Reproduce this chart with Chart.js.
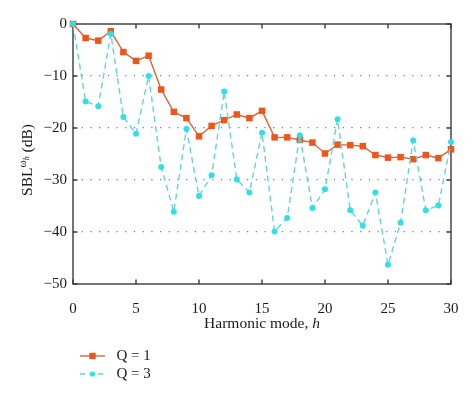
<!DOCTYPE html>
<html>
<head>
<meta charset="utf-8">
<script src="https://cdn.jsdelivr.net/npm/chart.js@4.4.1/dist/chart.umd.min.js"></script>
<style>
  html, body { margin: 0; padding: 0; background: #ffffff; }
  #wrap { width: 474px; height: 399px; }
</style>
</head>
<body>
<div id="wrap"><canvas id="c" width="474" height="399"></canvas></div>
<script>
// ---- data ----
const harmonics = [0,1,2,3,4,5,6,7,8,9,10,11,12,13,14,15,16,17,18,19,20,21,22,23,24,25,26,27,28,29,30];
const q1Values = [0,-2.7,-3.2,-1.4,-5.4,-7.1,-6.1,-12.6,-16.9,-18.1,-21.6,-19.6,-18.5,-17.4,-18.1,-16.7,
                  -21.8,-21.8,-22.3,-22.8,-24.9,-23.2,-23.3,-23.5,-25.2,-25.7,-25.6,-26.0,-25.2,-25.8,-24.1];
const q3Values = [0,-14.9,-15.8,-1.9,-17.9,-21.1,-10.0,-27.5,-36.1,-20.2,-33.1,-29.1,-13.0,-29.9,-32.4,-20.9,
                  -39.9,-37.3,-21.4,-35.4,-31.8,-18.3,-35.8,-38.8,-32.4,-46.3,-38.2,-22.4,-35.8,-34.9,-22.7];
const seriesLabels = ['Q = 1', 'Q = 3'];
const xTicks = [0,5,10,15,20,25,30];
const yTicks = [0,-10,-20,-30,-40,-50];
const xTitle = 'Harmonic mode, ';
const xTitleItalic = 'h';

const SERIF = '"Liberation Serif", "DejaVu Serif", serif';
const ORANGE_PT = '#ee561c';
const ORANGE_LN = '#d4673c';
const CYAN_PT = '#2fe0e6';
const CYAN_LN = '#62d5d8';

const toPts = (vals) => harmonics.map((h, i) => ({ x: h, y: vals[i] }));

const framePlugin = {
  id: 'frame',
  beforeDatasetsDraw(chart) {
    const { ctx, chartArea: a, scales } = chart;
    ctx.save();
    ctx.strokeStyle = '#3a3a3a';
    ctx.lineWidth = 1.4;
    ctx.strokeRect(a.left, a.top, a.right - a.left, a.bottom - a.top);
    const tl = 4.5;
    ctx.beginPath();
    xTicks.forEach(v => {
      const px = scales.x.getPixelForValue(v);
      ctx.moveTo(px, a.bottom); ctx.lineTo(px, a.bottom - tl);
      ctx.moveTo(px, a.top); ctx.lineTo(px, a.top + tl);
    });
    yTicks.forEach(v => {
      const py = scales.y.getPixelForValue(v);
      ctx.moveTo(a.left, py); ctx.lineTo(a.left + tl, py);
      ctx.moveTo(a.right, py); ctx.lineTo(a.right - tl, py);
    });
    ctx.stroke();
    ctx.restore();
  },
  afterDraw(chart) {
    const { ctx, chartArea: a } = chart;
    ctx.save();
    ctx.fillStyle = '#1a1a1a';
    // x title
    const fs = 15.5;
    ctx.font = fs + 'px ' + SERIF;
    const w1 = ctx.measureText(xTitle).width;
    ctx.font = 'italic ' + fs + 'px ' + SERIF;
    const w2 = ctx.measureText(xTitleItalic).width;
    const cx = (a.left + a.right) / 2;
    let x0 = cx - (w1 + w2) / 2;
    ctx.textBaseline = 'alphabetic';
    ctx.textAlign = 'left';
    ctx.font = fs + 'px ' + SERIF;
    ctx.fillText(xTitle, x0, 327.5);
    ctx.font = 'italic ' + fs + 'px ' + SERIF;
    ctx.fillText(xTitleItalic, x0 + w1, 327.5);

    // y title, rotated
    const parts = [
      { t: 'SBL', f: fs + 'px ' + SERIF, dy: 0 },
      { t: 'ω', f: '11px ' + SERIF, dy: -6 },
      { t: 'h', f: 'italic 8px ' + SERIF, dy: -3.5 },
      { t: ' (dB)', f: fs + 'px ' + SERIF, dy: 0 }
    ];
    let total = 0;
    parts.forEach(p => { ctx.font = p.f; p.w = ctx.measureText(p.t).width; total += p.w; });
    ctx.translate(32, 160);
    ctx.rotate(-Math.PI / 2);
    let px = -total / 2;
    parts.forEach(p => { ctx.font = p.f; ctx.fillText(p.t, px, p.dy); px += p.w; });
    ctx.restore();

    // legend
    ctx.save();
    const rows = [356, 374];
    chart.data.datasets.forEach((ds, i) => {
      const y = rows[i];
      ctx.strokeStyle = ds.borderColor;
      ctx.lineWidth = ds.borderWidth;
      ctx.setLineDash(ds.borderDash ? [5, 4] : []);
      ctx.beginPath();
      ctx.moveTo(80, y); ctx.lineTo(105, y);
      ctx.stroke();
      ctx.setLineDash([]);
      ctx.fillStyle = ds.pointBackgroundColor;
      if (ds.pointStyle === 'rect') {
        ctx.fillRect(92.5 - 3.2, y - 3.2, 6.4, 6.4);
      } else {
        ctx.beginPath(); ctx.arc(92.5, y, 2.6, 0, Math.PI * 2); ctx.fill();
      }
      ctx.fillStyle = '#1a1a1a';
      ctx.textBaseline = 'middle';
      ctx.textAlign = 'left';
      ctx.font = '15px ' + SERIF;
      ctx.fillText(ds.label, 116.5, y + 0.5);
    });
    ctx.restore();
  }
};

new Chart(document.getElementById('c'), {
  type: 'line',
  data: {
    datasets: [
      {
        label: seriesLabels[0],
        data: toPts(q1Values),
        borderColor: ORANGE_LN,
        borderWidth: 1.4,
        pointStyle: 'rect',
        pointRadius: 4.6,
        pointBackgroundColor: ORANGE_PT,
        pointBorderColor: ORANGE_PT,
        pointBorderWidth: 0,
        tension: 0,
        order: 2,
        clip: false
      },
      {
        label: seriesLabels[1],
        data: toPts(q3Values),
        borderColor: CYAN_LN,
        borderWidth: 1.4,
        borderDash: [6, 4],
        pointStyle: 'circle',
        pointRadius: 3,
        pointBackgroundColor: CYAN_PT,
        pointBorderColor: CYAN_PT,
        pointBorderWidth: 0,
        tension: 0,
        order: 1,
        clip: false
      }
    ]
  },
  options: {
    responsive: false,
    devicePixelRatio: 1,
    animation: false,
    layout: { padding: { top: 24, right: 23, left: 0, bottom: 0 } },
    plugins: { legend: { display: false }, tooltip: { enabled: false } },
    scales: {
      x: {
        type: 'linear',
        min: 0, max: 30,
        afterBuildTicks: (s) => { s.ticks = xTicks.map(v => ({ value: v })); },
        ticks: { font: { family: SERIF, size: 15 }, color: '#1a1a1a', padding: 8, maxRotation: 0, autoSkip: false },
        grid: { display: false },
        border: { display: false },
        afterFit: (s) => { s.height = 115; }
      },
      y: {
        min: -50, max: 0,
        afterBuildTicks: (s) => { s.ticks = yTicks.map(v => ({ value: v })); },
        ticks: {
          font: { family: SERIF, size: 15 }, color: '#1a1a1a', padding: 6,
          callback: (v) => v < 0 ? '\u2212' + Math.abs(v) : String(v)
        },
        grid: {
          drawTicks: false,
          lineWidth: 1.2,
          color: (c) => (c.tick && c.tick.value > -50 && c.tick.value < 0) ? '#777777' : 'rgba(0,0,0,0)'
        },
        border: { display: false, dash: [1.2, 7.5] },
        afterFit: (s) => { s.width = 73; }
      }
    }
  },
  plugins: [framePlugin]
});
</script>
</body>
</html>
